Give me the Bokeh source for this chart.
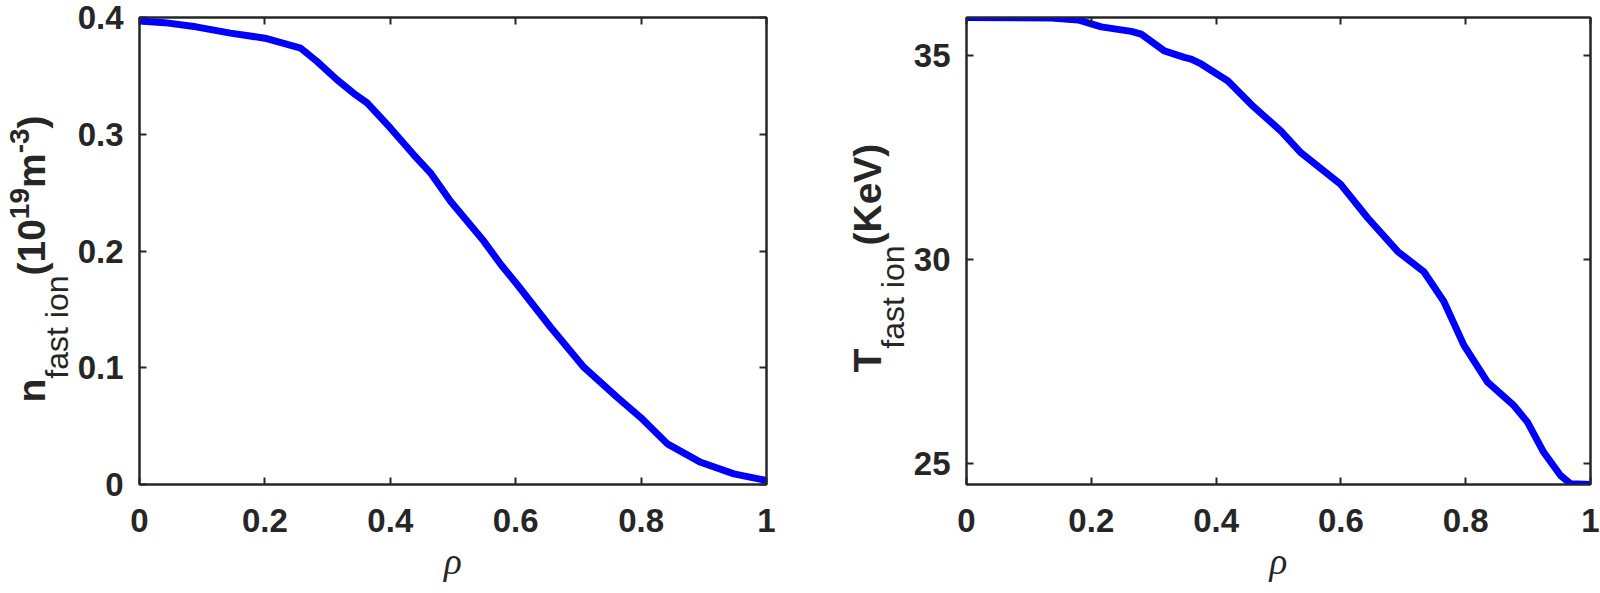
import math
from bokeh.plotting import figure
from bokeh.layouts import row
from bokeh.models import Range1d, LinearAxis, FixedTicker, CustomJSTickFormatter
from bokeh.core.properties import value
from bokeh.embed import file_html
from bokeh.resources import INLINE

# ---------------- data ----------------
rho_n = [0.00, 0.04, 0.09, 0.145, 0.20, 0.257, 0.283, 0.315, 0.341, 0.363, 0.40, 0.437,
         0.464, 0.496, 0.549, 0.576, 0.602, 0.656, 0.709, 0.762, 0.799, 0.842, 0.895, 0.948, 1.00]
n_fast = [0.397, 0.3956, 0.392, 0.3866, 0.3823, 0.3738, 0.3624, 0.3467, 0.3353, 0.3268, 0.3054, 0.2826,
          0.267, 0.2427, 0.2085, 0.1886, 0.1715, 0.1345, 0.1003, 0.0746, 0.0575, 0.0348, 0.019, 0.0091, 0.0034]

rho_T = [0.00, 0.136, 0.179, 0.216, 0.264, 0.28, 0.317, 0.349, 0.36, 0.376, 0.419, 0.456, 0.504,
         0.536, 0.60, 0.643, 0.691, 0.733, 0.765, 0.797, 0.835, 0.877, 0.899, 0.925, 0.952, 0.968, 1.00]
T_fast = [35.94, 35.93, 35.88, 35.71, 35.60, 35.53, 35.12, 34.96, 34.92, 34.80, 34.38, 33.81, 33.15,
          32.62, 31.84, 31.02, 30.20, 29.70, 28.97, 27.90, 26.99, 26.42, 26.01, 25.27, 24.70, 24.50, 24.48]

x_ticks = [0, 0.2, 0.4, 0.6, 0.8, 1]
n_ticks = [0, 0.1, 0.2, 0.3, 0.4]
T_ticks = [25, 30, 35]

n_label = [("n", "main"), ("fast ion", "sub"), ("(10", "main"), ("19", "sup"),
           ("m", "main"), ("-3", "sup"), (")", "main")]
T_label = [("T", "main"), ("fast ion", "sub"), ("(KeV)", "main")]

AX = "#262626"
FONT = "Liberation Sans"
H = 593
TOP, BOTTOM = 17, 109

# Arial / Liberation Sans advance widths (per em)
BOLD_W = {"n": 0.611, "(": 0.333, ")": 0.333, "1": 0.556, "0": 0.556, "9": 0.556, "m": 0.889,
          "-": 0.333, "3": 0.556, "T": 0.611, "K": 0.722, "e": 0.556, "V": 0.667}
REG_W = {"f": 0.278, "a": 0.556, "s": 0.5, "t": 0.278, " ": 0.278, "i": 0.222, "o": 0.556, "n": 0.556}
STYLE = {"main": (39, True, 0), "sub": (32, False, 22), "sup": (28, True, -17)}


def text_width(t, size, bold):
    tab = BOLD_W if bold else REG_W
    return sum(tab.get(c, 0.556) for c in t) * size


def make_panel(xr, yr, yticks, border_left, border_right, width):
    p = figure(width=width, height=H, output_backend="svg", toolbar_location=None,
               x_range=Range1d(*xr), y_range=Range1d(*yr),
               min_border_left=border_left, min_border_right=border_right,
               min_border_top=TOP, min_border_bottom=BOTTOM)
    p.grid.visible = False
    p.background_fill_color = "white"
    p.border_fill_color = "white"
    p.outline_line_color = AX
    p.outline_line_width = 2
    fmt = CustomJSTickFormatter(code="return Number(tick.toFixed(3)).toString();")
    for ax, ticks in ((p.xaxis[0], x_ticks), (p.yaxis[0], yticks)):
        ax.ticker = FixedTicker(ticks=ticks)
        ax.formatter = fmt
        ax.major_tick_in = 7
        ax.major_tick_out = 0
        ax.minor_tick_line_color = None
        ax.axis_line_color = AX
        ax.axis_line_width = 2
        ax.major_tick_line_color = AX
        ax.major_tick_line_width = 2
        ax.major_label_text_font = FONT
        ax.major_label_text_font_style = "bold"
        ax.major_label_text_font_size = "33px"
        ax.major_label_text_color = AX
    p.xaxis[0].major_label_standoff = 24
    p.yaxis[0].major_label_standoff = 16
    p.xaxis[0].axis_label = "ρ"
    p.xaxis[0].axis_label_text_font = "Liberation Serif"
    p.xaxis[0].axis_label_text_font_style = "italic"
    p.xaxis[0].axis_label_text_font_size = "37px"
    p.xaxis[0].axis_label_text_color = AX
    p.xaxis[0].axis_label_standoff = 6
    blank = CustomJSTickFormatter(code="return '';")
    for ticks, side in ((x_ticks, "above"), (yticks, "right")):
        a = LinearAxis(ticker=FixedTicker(ticks=ticks), formatter=blank,
                       major_tick_in=7, major_tick_out=0, minor_tick_line_color=None,
                       axis_line_color=AX, axis_line_width=2,
                       major_tick_line_color=AX, major_tick_line_width=2,
                       major_label_text_font_size="0px", major_label_standoff=0)
        p.add_layout(a, side)
    return p


def label_strip(width, pieces, start_py, base_px):
    """A narrow figure whose frame spans the same rows as the panels; coordinates are page pixels."""
    s = figure(width=width, height=H, output_backend="svg", toolbar_location=None,
               x_range=Range1d(0, width), y_range=Range1d(BOTTOM, H - TOP),
               min_border=0, min_border_left=0, min_border_right=0,
               min_border_top=TOP, min_border_bottom=BOTTOM,
               x_axis_location=None, y_axis_location=None)
    s.grid.visible = False
    s.outline_line_color = None
    s.background_fill_color = "white"
    s.border_fill_color = "white"
    py = start_py
    for txt, kind in pieces:
        size, bold, shift = STYLE[kind]
        # rotated text is drawn about 0.4 em to the right of its anchor
        s.text(x=[base_px + shift - 0.4 * size], y=[H - py], text=[txt], angle=math.pi / 2,
               text_font=value(FONT), text_font_style="bold" if bold else "normal",
               text_font_size=f"{size}px", text_color=AX,
               text_align="left", text_baseline="alphabetic")
        py -= text_width(txt, size, bold)
    return s


xr = (0, 1)

# ---------------- left panel ----------------
L1 = label_strip(74, n_label, 402, 47)
p1 = make_panel(xr, (0, 0.4), n_ticks, 65, 34, 726)
p1.line(rho_n, n_fast, line_color="#0000FF", line_width=7)

# ---------------- right panel ----------------
L2 = label_strip(110, T_label, 372, 83)
p2 = make_panel(xr, (24.48, 35.94), T_ticks, 55, 10, 690)
p2.line(rho_T, T_fast, line_color="#0000FF", line_width=7)

layout = row(L1, p1, L2, p2)
open("out.html", "w").write(file_html(layout, INLINE))
